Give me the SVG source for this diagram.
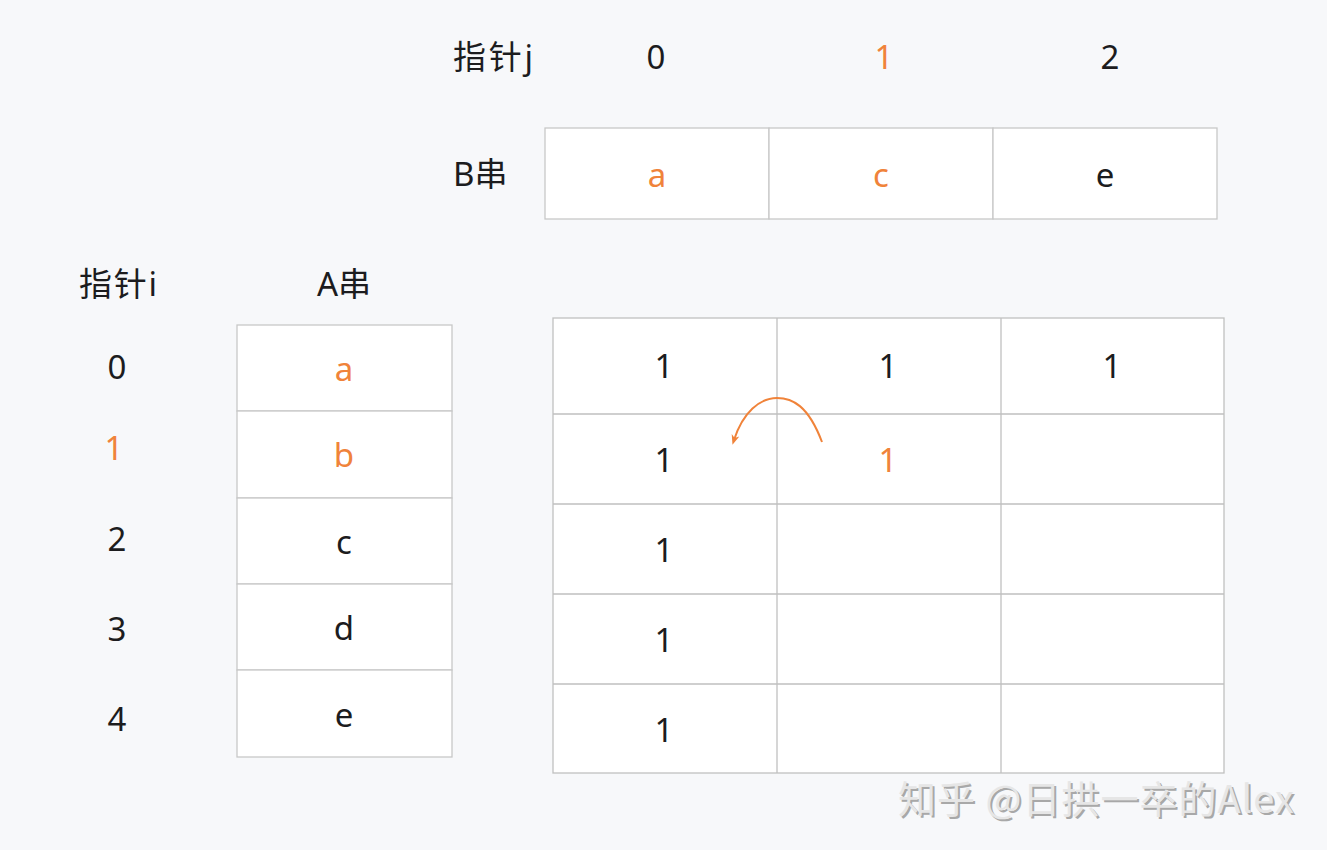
<svg xmlns="http://www.w3.org/2000/svg" width="1327" height="850" viewBox="0 0 1327 850">
<defs>
<style>
.t{font-family:"Noto Sans","Noto Sans CJK SC",sans-serif;font-size:33px;fill:#1c1c1e;text-anchor:middle;dominant-baseline:central}
.o{fill:#f0833a}
.l{text-anchor:start}
.cell{fill:#ffffff;stroke:#c8c8c8;stroke-width:1.3}
.g{stroke:#c0c0c0;stroke-width:1.3;fill:none}
.wm{font-family:"Noto Sans CJK SC","Noto Sans",sans-serif;font-size:38px;letter-spacing:1px;text-anchor:start;dominant-baseline:central}
</style>
<marker id="ah" markerWidth="10" markerHeight="10" refX="5" refY="5" orient="auto" markerUnits="userSpaceOnUse" viewBox="0 0 10 10">
<path d="M0,1 L10,5 L0,9 L3,5 Z" fill="#f0833a"/>
</marker>
</defs>
<rect width="1327" height="850" fill="#f7f8fa"/>

<g id="header-j">
<text class="t l" x="453" y="56" textLength="80">指针j</text>
<text class="t" x="656" y="56">0</text>
<text class="t o" x="884" y="56">1</text>
<text class="t" x="1110" y="56">2</text>
</g>

<g id="B-string">
<text class="t l" x="453" y="173">B串</text>
<rect class="cell" x="545" y="128" width="224" height="91"/>
<rect class="cell" x="769" y="128" width="224" height="91"/>
<rect class="cell" x="993" y="128" width="224" height="91"/>
<text class="t o" x="657" y="174">a</text>
<text class="t o" x="881" y="174">c</text>
<text class="t" x="1105" y="174">e</text>
</g>

<g id="header-i">
<text class="t l" x="79" y="283" textLength="78">指针i</text>
<text class="t" x="117" y="366">0</text>
<text class="t o" x="114" y="447">1</text>
<text class="t" x="117" y="538">2</text>
<text class="t" x="117" y="628">3</text>
<text class="t" x="117" y="718">4</text>
</g>

<g id="A-string">
<text class="t" x="344" y="283">A串</text>
<rect class="cell" x="237" y="325" width="215" height="86"/>
<rect class="cell" x="237" y="411" width="215" height="87"/>
<rect class="cell" x="237" y="498" width="215" height="86"/>
<rect class="cell" x="237" y="584" width="215" height="86"/>
<rect class="cell" x="237" y="670" width="215" height="87"/>
<text class="t o" x="344" y="368">a</text>
<text class="t o" x="344" y="454">b</text>
<text class="t" x="344" y="541">c</text>
<text class="t" x="344" y="627">d</text>
<text class="t" x="344" y="714">e</text>
</g>

<g id="dp-table">
<rect x="553" y="318" width="671" height="455" fill="#ffffff" stroke="#c0c0c0" stroke-width="1.3"/>
<path class="g" d="M777,318V773M1001,318V773M553,414H1224M553,504H1224M553,594H1224M553,684H1224"/>
<text class="t" x="664" y="365">1</text>
<text class="t" x="888" y="365">1</text>
<text class="t" x="1112" y="365">1</text>
<text class="t" x="664" y="459">1</text>
<text class="t o" x="888" y="459">1</text>
<text class="t" x="664" y="549">1</text>
<text class="t" x="664" y="639">1</text>
<text class="t" x="664" y="729">1</text>
</g>

<g id="connectors">
<path d="M822,442 C808,405 792,398 777,398 C760,398 743,412 734,440" fill="none" stroke="#f0833a" stroke-width="2" marker-end="url(#ah)"/>
</g>

<g id="watermark">
<text class="wm" x="900" y="798" fill="#a8a8a8">知乎 @日拱一卒的Alex</text>
<text class="wm" x="898" y="796" fill="#e6e6e6">知乎 @日拱一卒的Alex</text>
</g>
</svg>
